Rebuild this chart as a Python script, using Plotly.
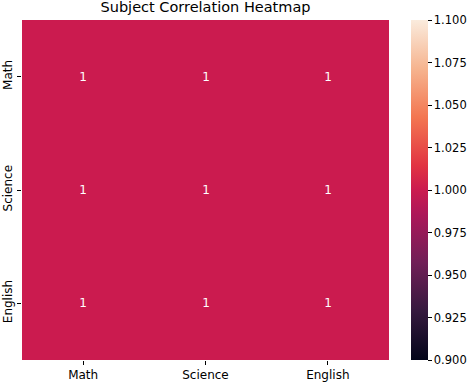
import plotly.graph_objects as go

subjects = ["Math", "Science", "English"]
corr = [[1, 1, 1],
        [1, 1, 1],
        [1, 1, 1]]
cbar_ticks = [0.9, 0.925, 0.95, 0.975, 1.0, 1.025, 1.05, 1.075, 1.1]

rocket = [
    [0.0, "#03051A"], [0.143, "#35193E"], [0.286, "#701F57"], [0.429, "#AD1759"],
    [0.5, "#CB1B4F"], [0.571, "#E13342"], [0.714, "#F37651"], [0.857, "#F6B48F"],
    [1.0, "#FAEBDD"],
]

fig = go.Figure(go.Heatmap(
    z=corr, x=subjects, y=subjects,
    zmin=0.9, zmax=1.1, colorscale=rocket,
    text=[[str(v) for v in row] for row in corr],
    texttemplate="%{text}",
    textfont=dict(color="white", size=12, family="DejaVu Sans"),
    colorbar=dict(
        x=1.06, xanchor="left", y=0, yanchor="bottom", xpad=0, ypad=0,
        len=1, lenmode="fraction", thickness=17,
        outlinewidth=0, tickvals=cbar_ticks, tickformat=".3f",
        ticks="outside", ticklen=4, tickcolor="black",
        tickfont=dict(size=11.5, family="DejaVu Sans", color="black"),
    ),
))

fig.update_layout(
    width=474, height=383,
    margin=dict(l=22, r=85, t=20, b=23, autoexpand=False),
    paper_bgcolor="white", plot_bgcolor="white",
    title=dict(text="Subject Correlation Heatmap", x=0.5, xref="paper",
               y=1, yref="container", yanchor="top", pad=dict(t=2),
               font=dict(size=14.5, family="DejaVu Sans", color="black")),
    font=dict(family="DejaVu Sans", color="black"),
)
fig.update_xaxes(ticks="outside", ticklen=4, tickcolor="black", showgrid=False,
                 zeroline=False, tickfont=dict(size=12), automargin=False)
fig.update_yaxes(ticks="outside", ticklen=4, tickcolor="black", showgrid=False,
                 zeroline=False, autorange="reversed", tickangle=-90,
                 tickfont=dict(size=12), automargin=False)

fig.write_html("out.html", config={"displayModeBar": False},
               post_script="document.body.style.margin='0px';")
